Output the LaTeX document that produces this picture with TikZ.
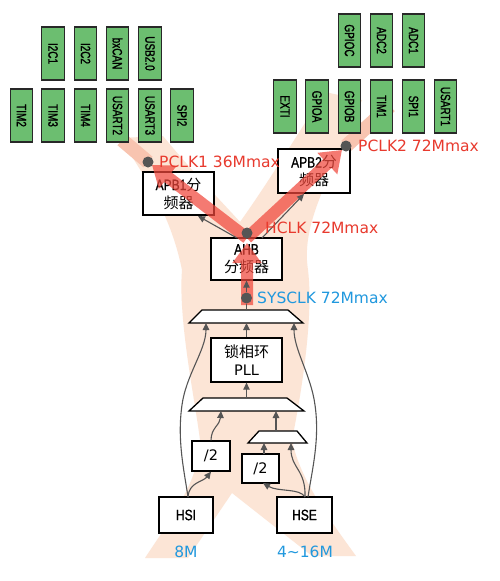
\documentclass[tikz,border=0pt]{standalone}
\usepackage{fontspec}
\setmainfont{Liberation Sans}
\newfontfamily\narrowfont{Liberation Sans}[FakeStretch=0.8,FakeBold=1]
\newfontfamily\gfont{Liberation Sans}[FakeStretch=0.74,FakeBold=1.2]
\newfontfamily\cjkfont{Noto Sans CJK SC}
\newfontfamily\labfont{DejaVu Sans}
\usetikzlibrary{arrows.meta}
\newcommand{\zh}[1]{{\cjkfont\fontsize{15}{18}\selectfont #1}}
\newcommand{\wide}[1]{{\labfont\fontsize{14.5}{18}\selectfont #1}}
\definecolor{peach}{RGB}{252,229,214}
\definecolor{salmon}{RGB}{248,196,176}
\definecolor{redarr}{RGB}{240,72,60}
\definecolor{redtxt}{RGB}{232,58,46}
\definecolor{bluetxt}{RGB}{32,152,222}
\definecolor{gfill}{RGB}{108,190,112}
\definecolor{gborder}{RGB}{40,40,40}
\definecolor{cgray}{RGB}{85,85,85}
\begin{document}
\begin{tikzpicture}[x=1pt,y=-1pt,
  gbox/.style={draw=gborder, fill=gfill, line width=1.2pt, rotate=-90,
    minimum width=53pt, minimum height=22.5pt, inner sep=0pt,
    font=\gfont\fontsize{13.5}{15}\selectfont},
  wbox/.style={draw=black, fill=white, line width=1.3pt, inner sep=0pt, align=center,
    font=\narrowfont\fontsize{15}{18}\selectfont},
  conn/.style={draw=cgray, line width=1.1pt, -{Triangle[length=7pt,width=6.5pt]}},
  plainline/.style={draw=cgray, line width=1.1pt},
  mux/.style={draw=black, fill=white, line width=1.3pt, line join=miter},
  redarrow/.style={line width=12pt, draw=redarr, -{Triangle[length=20pt,width=28pt]}},
  clkdot/.style={circle, fill=cgray, inner sep=0pt, minimum size=11pt},
  redlab/.style={text=redtxt, anchor=base west, inner sep=0pt, font=\labfont\fontsize{15.5}{18}\selectfont},
  bluelab/.style={text=bluetxt, inner sep=0pt, font=\labfont\fontsize{15.5}{18}\selectfont},
  band/.style={line width=14pt, draw=salmon}
]
\useasboundingbox (0,0) rectangle (500,581);
\fill[white] (0,0) rectangle (500,581);

% background fan
\fill[peach] (120,138) -- (163,136) .. controls (195,175) and (225,205) .. (240,222)
  .. controls (270,180) and (300,130) .. (325,92) -- (362,100)
  .. controls (335,170) and (300,220) .. (308,270)
  .. controls (314,320) and (300,400) .. (292,440)
  .. controls (300,480) and (330,520) .. (356,556) -- (312,556) -- (232,493) -- (188,558) -- (145,558)
  .. controls (170,520) and (200,480) .. (200,440)
  .. controls (195,400) and (178,320) .. (182,270)
  .. controls (170,210) and (140,170) .. (120,138) -- cycle;

% clock dots (positions)
\coordinate (p1) at (148,162);
\coordinate (p2) at (346,146);
\draw[band] (p1) -- (122,140);
\draw[band] (p2) -- (390,106);

% peripherals APB1
\node[gbox] (i2c1) at (53,53.5) {I2C1};
\node[gbox] (i2c2) at (85.5,53.5) {I2C2};
\node[gbox] (bxcan) at (117.5,53.5) {bxCAN};
\node[gbox] (usb) at (150,53.5) {USB2.0};
\node[gbox] (tim2) at (21.5,115.5) {TIM2};
\node[gbox] (tim3) at (53,115.5) {TIM3};
\node[gbox] (tim4) at (85.5,115.5) {TIM4};
\node[gbox] (usart2) at (117.5,115.5) {USART2};
\node[gbox] (usart3) at (150,115.5) {USART3};
\node[gbox] (spi2) at (182,115.5) {SPI2};
% peripherals APB2
\node[gbox] (gpioc) at (349.5,40.5) {GPIOC};
\node[gbox] (adc2) at (381.5,40.5) {ADC2};
\node[gbox] (adc1) at (413.5,40.5) {ADC1};
\node[gbox] (exti) at (285,106.5) {EXTI};
\node[gbox] (gpioa) at (317,106.5) {GPIOA};
\node[gbox] (gpiob) at (349.5,106.5) {GPIOB};
\node[gbox] (tim1) at (381.5,106.5) {TIM1};
\node[gbox] (spi1) at (413.5,106.5) {SPI1};
\node[gbox] (usart1) at (445.5,106.5) {USART1};

% boxes
\node[wbox, minimum width=71pt, minimum height=43pt] (apb1) at (178.5,193.5) {APB1\zh{分}\\\zh{频器}};
\node[wbox, minimum width=72pt, minimum height=44pt] (apb2) at (314,171) {APB2\zh{分}\\\zh{频器}};
\node[wbox, minimum width=71pt, minimum height=42pt] (ahb) at (246.5,259) {AHB\\\zh{分频器}};
\node[wbox, minimum width=71pt, minimum height=44pt] (pll) at (246.5,360) {\zh{锁相环}\\\wide{PLL}};
\node[wbox, minimum width=38pt, minimum height=30pt] (divl) at (211,456) {\wide{/2}};
\node[wbox, minimum width=37pt, minimum height=29pt] (divr) at (260.5,468.5) {\wide{/2}};
\node[wbox, minimum width=54pt, minimum height=36pt] (hsi) at (186,515) {HSI};
\node[wbox, minimum width=55pt, minimum height=36pt] (hse) at (304.5,515) {HSE};

% multiplexers
\draw[mux] (202,310) -- (288,310) -- (303,323) -- (189,323) -- cycle;
\draw[mux] (203,398) -- (287,398) -- (304,411) -- (189,411) -- cycle;
\draw[mux] (259,431) -- (297,431) -- (307,443) -- (248,443) -- cycle;
\coordinate (m1top) at (246.5,310);
\coordinate (m1inL) at (206,323);
\coordinate (m1inC) at (246.5,323);
\coordinate (m1inR) at (294,323);
\coordinate (m2top) at (246.5,398);
\coordinate (m2inL) at (221,411);
\coordinate (m2inR) at (276,411);
\coordinate (m3top) at (276,431);
\coordinate (m3inL) at (264,443);
\coordinate (m3inR) at (291,443);
\coordinate (hsiout) at (188,497);
\coordinate (hseout) at (305,497);
\coordinate (hseout2) at (308,497);
\coordinate (divrin) at (263,483);
\coordinate (divrout) at (264,454);
\coordinate (ahbL) at (237,238);
\coordinate (ahbR) at (262,238);
\coordinate (apb1in) at (198,216);
\coordinate (apb2in) at (304,194);

% red signal arrows
\begin{scope}[transparency group, opacity=0.72]
\draw[redarrow] (247,305) -- (247,243);
\draw[redarrow] (247,238) -- (152,165);
\draw[redarrow] (247,238) -- (342,150);
\end{scope}

% connectors
\draw[conn] (hsiout) .. controls (189,482) and (203,482) .. (divl.south);
\draw[conn] (divl.north) .. controls (211,428) and (220,425) .. (m2inL);
\draw[conn] (hseout) .. controls (300,488) and (278,492) .. (divrin);
\draw[conn] (hseout) .. controls (306,470) and (291,468) .. (m3inR);
\draw[conn] (divrout) -- (m3inL);
\draw[conn] (m3top) -- (m2inR);
\draw[conn] (m2top) -- (pll.south);
\draw[conn] (pll.north) -- (m1inC);
\draw[conn] (hsiout) .. controls (184,470) and (177,440) .. (182,405)
  .. controls (186,375) and (206,350) .. (m1inL);
\draw[conn] (hseout2) .. controls (312,470) and (320,440) .. (315,405)
  .. controls (311,375) and (294,350) .. (m1inR);

\node[clkdot] (sys) at (246.5,298) {};
\node[clkdot] (hclk) at (247,233) {};
\node[clkdot] (pclk1) at (p1) {};
\node[clkdot] (pclk2) at (p2) {};

\draw[plainline] (m1top) -- (sys);
\draw[conn] (sys) -- (ahb.south);
\draw[plainline] (ahb.north) -- (hclk);
\draw[conn] (ahbL) -- (apb1in);
\draw[conn] (ahbR) -- (apb2in);

% labels
\node[redlab] (l1) at (159,167.5) {PCLK1 36Mmax};
\node[redlab] (l2) at (358,151.5) {PCLK2 72Mmax};
\node[redlab] (l3) at (265,233.5) {HCLK 72Mmax};
\node[bluelab, anchor=base west] (l4) at (257,303.5) {SYSCLK 72Mmax};
\node[bluelab, anchor=base] (l5) at (186,557) {8M};
\node[bluelab, anchor=base] (l6) at (305,557) {4\string~16M};
\end{tikzpicture}
\end{document}
